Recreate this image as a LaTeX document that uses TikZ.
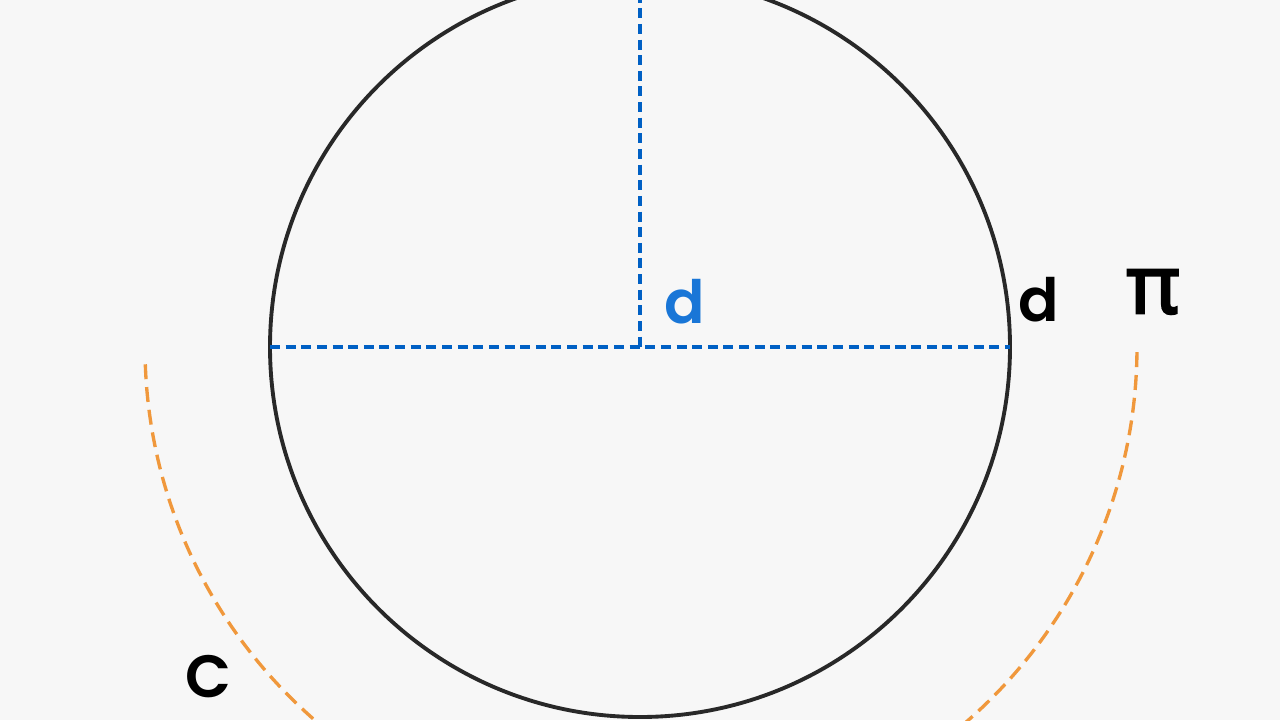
\documentclass[tikz,border=0pt]{standalone}
\usepackage{fontspec}
\setmainfont{Poppins}
\newfontfamily\lblfont{Poppins SemiBold}
\newfontfamily\greekfont{Noto Sans}[FakeBold=3]
\usepackage{tikz}
\definecolor{bgray}{RGB}{247,247,247}
\definecolor{rimgray}{RGB}{40,40,40}
\definecolor{dblue}{RGB}{0,96,196}
\definecolor{lblue}{RGB}{25,118,215}
\definecolor{corange}{RGB}{240,152,60}

\begin{document}
\begin{tikzpicture}
[
x=0.02cm,y=-0.02cm,
rim/.style={draw=rimgray,line width=2.2pt},
radline/.style={draw=dblue,line width=2.2pt,dash pattern=on 5.7pt off 3.2pt},
arcline/.style={draw=corange,line width=1.9pt,dash pattern=on 8.5pt off 4.5pt},
lbl/.style={font=\fontsize{34}{34}\selectfont\lblfont,inner sep=0pt},
]
\fill[bgray] (0,0) rectangle (1280,720);
\useasboundingbox (0,0) rectangle (1280,720);
\clip (0,0) rectangle (1280,720);

%Place the nodes
\coordinate (O) at (640,347);
\coordinate (L) at (270,347);
\coordinate (R) at (1010,347);
\coordinate (T) at (640,-23);
\node[lbl,text=lblue] (dr) at (685,302) {d};
\node[lbl] (dd) at (1039,300) {d};
\node[lbl,font=\fontsize{46}{46}\selectfont\greekfont] (pi) at (1153,292) {π};
\node[lbl] (c) at (208,677) {C};

%Draw the connections
\draw[rim] (O) circle[radius=370];
\draw[radline] (L) -- (R);
\draw[radline] (T) -- (O);
\draw[arcline] ([shift={(178:495)}]O) arc[start angle=178,end angle=125,radius=495];
\draw[arcline] ([shift={(0.6:497)}]O) arc[start angle=0.6,end angle=55,radius=497];
\end{tikzpicture}
\end{document}
